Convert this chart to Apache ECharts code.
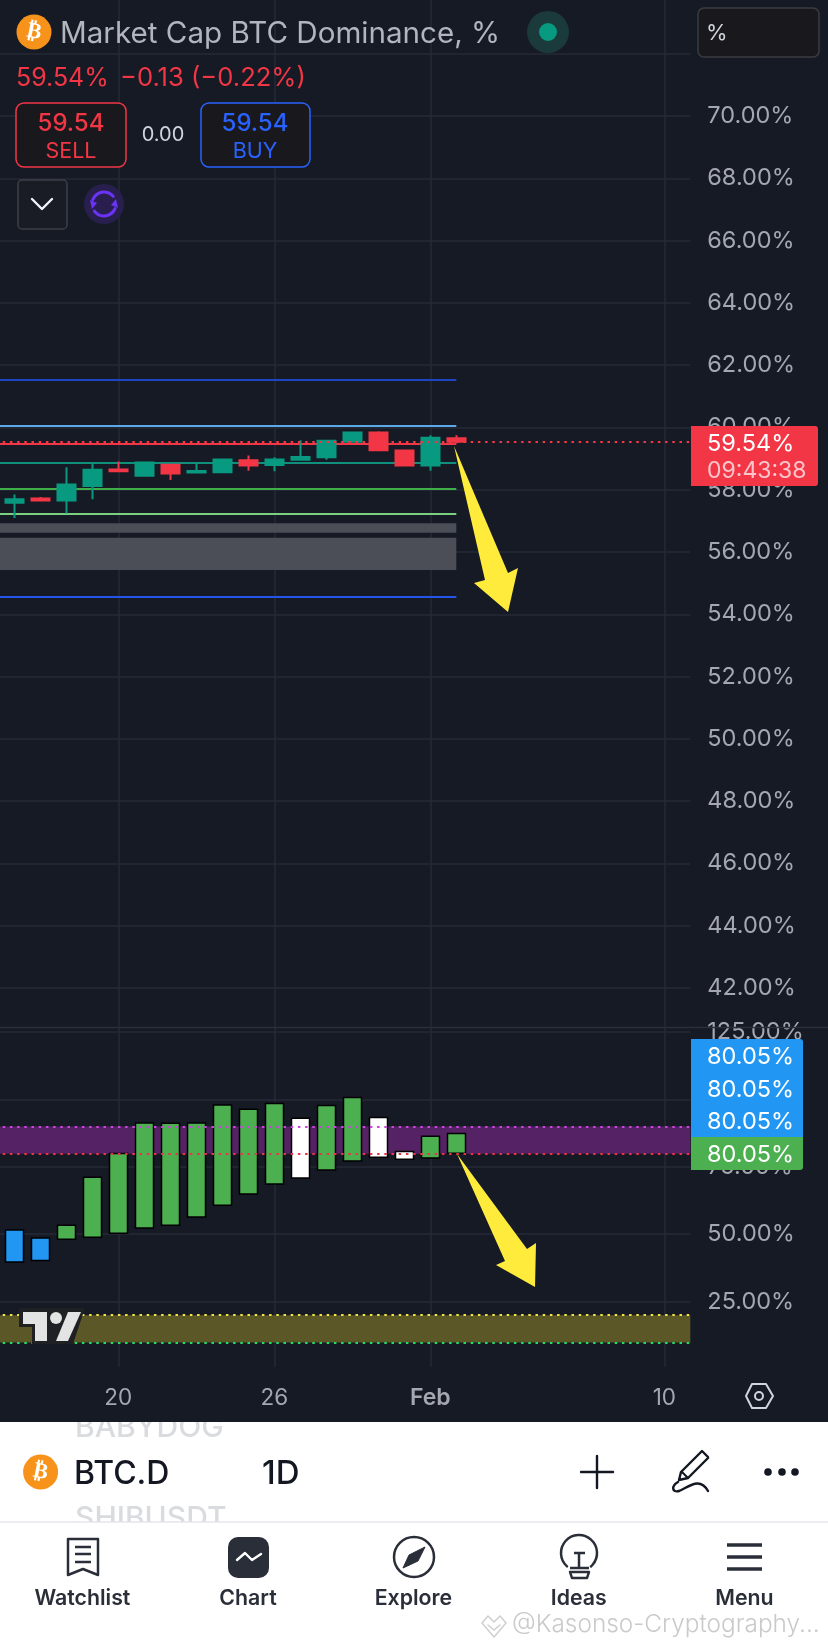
<!DOCTYPE html>
<html>
<head>
<meta charset="utf-8">
<style>html,body{margin:0;padding:0;background:#161A25}#c{width:828px;height:1646px}</style>
<script src="https://cdn.jsdelivr.net/npm/echarts@6/dist/echarts.min.js"></script>
</head>
<body>
<div id="c"></div>
<script>
// ---- data ----
const categories = ['15','16','17','18','19','20','21','22','23','24','25','26','27','28','29','30','31','Feb','2','3','4','5','6','7','8','9','10','11'];
const tickLabels = ['20','26','Feb','10'];
const candleDays = ['16','17','18','19','20','21','22','23','24','25','26','27','28','29','30','31','Feb','2'];
const candleOpen  = [57.58,57.72,57.65,58.12,58.65,58.45,58.80,58.55,58.56,58.95,58.79,58.96,59.04,59.54,59.84,59.26,58.78,59.65];
const candleClose = [57.69,57.65,58.17,58.64,58.59,58.87,58.52,58.60,58.97,58.78,58.97,59.05,59.57,59.84,59.27,58.78,59.67,59.54];
const candleLow   = [57.09,57.65,57.24,57.69,58.59,58.45,58.31,58.55,58.56,58.61,58.59,58.93,58.96,59.54,59.27,58.78,58.61,59.49];
const candleHigh  = [57.85,57.765,58.72,58.85,58.91,58.87,58.80,58.85,58.97,59.10,59.04,59.59,59.59,59.84,59.88,59.26,59.75,59.75];
const oscLow  = [39.72,40.22,48.13,48.87,50.36,52.33,53.32,56.41,60.74,64.94,68.65,70.88,73.85,77.19,78.55,77.80,78.30,80.03];
const oscHigh = [51.59,48.62,53.32,71.13,79.91,91.28,91.16,91.28,97.96,96.35,98.45,93.01,97.71,100.68,93.26,80.65,86.33,87.32];
const oscState = ['blue','blue','green','green','green','green','green','green','green','green','green','white','green','green','white','white','green','green'];
const lastPrice = 59.54;
const lineLevels = {deepBlueTop:61.52, lightBlue:60.05, red:59.47, teal:58.87, green:58.04, paleGreen:57.22, deepBlueBottom:54.55};
const greyBandA = [56.62,56.92];
const greyBandB = [55.42,56.46];
const purpleBand = [79.8,89.92];
const oliveBand = [9.8,19.94];
const oscTicks = [25,50,75,100,125];
const oscTagLabels = ['80.05%','80.05%','80.05%','80.05%'];

// ---- palette ----
const BG='#161A25', GRID='#262a36', AX='#a4a7b0', RED='#F23645', TEAL='#089981', BLUE='#2962FF';
const FONT='Inter, "Noto Sans", sans-serif';
const oscPalette={blue:'#2196F3',green:'#4CAF50',white:'#FFFFFF'};
const PANEL='#19191d', INK='#131722', NAV='#2a2e39';

// ---- chrome helpers ----
let zc=20; const g=[];
function add(o){o.z=zc++;o.silent=true;g.push(o);return o;}
function R(x,y,w,h,fill,stroke,r,lw){add({type:'rect',shape:{x,y,width:w,height:h,r:r||0},style:{fill:fill||'transparent',stroke:stroke||null,lineWidth:lw||1}});}
function T(x,y,text,size,fill,align,weight,extra){add({type:'text',style:Object.assign({x,y,text,fill,font:(weight||400)+' '+size+'px '+FONT,textAlign:align||'left',textVerticalAlign:'middle'},extra||{})});}
function C(cx,cy,r,fill,stroke,lw){add({type:'circle',shape:{cx,cy,r},style:{fill:fill||'transparent',stroke:stroke||null,lineWidth:lw||1}});}
function L(pts,stroke,lw,cap){add({type:'polyline',shape:{points:pts},style:{stroke,lineWidth:lw,fill:'transparent',lineCap:cap||'round',lineJoin:'round'}});}
function P(pts,fill,stroke,lw){add({type:'polygon',shape:{points:pts},style:{fill:fill||'transparent',stroke:stroke||null,lineWidth:lw||1,lineJoin:'round'}});}
function A(cx,cy,r,s,e,stroke,lw){add({type:'arc',shape:{cx,cy,r,startAngle:s,endAngle:e},style:{stroke,lineWidth:lw,fill:'transparent',lineCap:'round'}});}
function Q(x1,y1,cx1,cy1,cx2,cy2,x2,y2,stroke,lw){add({type:'bezierCurve',shape:{x1,y1,x2,y2,cpx1:cx1,cpy1:cy1,cpx2:cx2,cpy2:cy2},style:{stroke,lineWidth:lw,fill:'transparent',lineCap:'round'}});}
function btc(cx,cy,r,size){C(cx,cy,r,'#F7931A');add({type:'text',rotation:-0.2,x:cx,y:cy,style:{x:0,y:0,text:'₿',fill:'#fff',font:'700 '+size+'px "DejaVu Sans"',textAlign:'center',textVerticalAlign:'middle'}});}

// separator between panes
L([[0,1027.5],[828,1027.5]],'#2b2f3a',1.5,'butt');
// top-left header
R(126,100,75,70,BG);
btc(34,32,17.5,22);
T(60,34,'Market Cap BTC Dominance, %',29.6,'#B2B5BE');
C(548,32,21,'#1b3a3b'); C(548,32,9,TEAL);
T(16,78,'59.54%',25,RED); T(120,78,'−0.13 (−0.22%)',25.6,RED);
R(16,103,110,64,PANEL,RED,8,1.5);
T(71,124,'59.54',24,RED,'center',500); T(71,152,'SELL',21.5,RED,'center');
T(163,135,'0.00',20,'#D1D4DC','center');
R(201,103,109,64,PANEL,BLUE,8,1.5);
T(255,124,'59.54',24,BLUE,'center',500); T(255,152,'BUY',21.5,BLUE,'center');
R(18,180,49,49,'#1a1c25','#3d3f47',4,1.5);
L([[32,199],[42,209],[52,199]],'#F0F3FA',2.4);
C(104,204,20,'#281f4f');
A(104,204,12,3.5,5.6,'#6a33f5',3); A(104,204,12,0.4,2.5,'#6a33f5',3);
P([[116,199],[118,208],[111,205]],'#6a33f5'); P([[92,209],[90,200],[97,203]],'#6a33f5');
// scale-mode box
R(698,8,121,49,'#19191d','#3b3c40',6,1.5);
T(706,33,'%',22,'#D1D4DC');
// price tag top
add({type:'rect',shape:{x:691,y:426,width:127,height:60,r:[0,3,3,0]},style:{fill:RED}});
T(707,444,'59.54%',23.5,'#FFFFFF'); T(707,471,'09:43:38',23,'#FBC5CB');
// oscillator tags
add({type:'rect',shape:{x:691,y:1039,width:112,height:98,r:[0,3,0,0]},style:{fill:'#2196F3'}});
add({type:'rect',shape:{x:691,y:1137,width:112,height:33,r:[0,0,3,0]},style:{fill:'#4CAF50'}});
[1057,1090,1122,1155].forEach((y,i)=>T(707,y,oscTagLabels[i],23.5,'#FFFFFF'));
// arrows
P([[454,446],[508,573],[518,568],[508,612],[474,583],[485,580]],'#FFEB3B');
P([[457,1154],[527,1249],[536,1243],[535,1287],[496,1265],[505,1261]],'#FFEB3B');
// TradingView logo
P([[19,1308],[85,1308],[73,1344],[32,1344],[32,1327],[19,1327]],'#1f2024');
P([[23,1312],[47,1312],[47,1341],[35,1341],[35,1324],[23,1324]],'#E3E3E3');
C(56,1318,6,'#E3E3E3');
P([[68,1312],[81,1312],[68,1341],[56,1341]],'#E3E3E3');
// hex settings
P([[746,1396],[752,1384],[766,1384],[773,1396],[766,1408],[752,1408]],'transparent','#D1D4DC',2);
C(759,1396,4,'transparent','#D1D4DC',2);
// white panels
R(0,1422,828,224,'#FFFFFF');
T(75,1428,'BABYDOG',30,'#D9DBDF','left',500);
T(75,1519,'SHIBUSDT',30,'#D9DBDF','left',500);
R(70,1408,175,14,BG);
R(0,1522,828,124,'#FFFFFF');
L([[0,1522],[828,1522]],'#E4E6EA',1.5,'butt');
// toolbar row
R(60,1449,240,46,'#FFFFFF');
btc(40.6,1472,17.5,22);
T(74,1474,'BTC.D',32,INK,'left',500);
T(262,1474,'1D',33,INK,'left',500);
L([[597,1456],[597,1488]],INK,2.4); L([[581,1472],[613,1472]],INK,2.4);
P([[708,1457],[702,1451],[681,1472],[679,1480],[688,1478],[708,1458]],'transparent',INK,2.4);
L([[682,1472],[688,1478]],INK,2);
Q(678,1482,671,1486,672,1493,679,1491,INK,2.4);
Q(679,1491,690,1486,700,1477,708,1491,INK,2.4);
C(768,1472,3.8,INK); C(782,1472,3.8,INK); C(795,1472,3.8,INK);
// nav bar
P([[68,1539],[98,1539],[98,1575],[83,1569],[68,1575]],'transparent',NAV,2.5);
L([[75,1547],[91,1547]],NAV,2.5,'butt'); L([[75,1554],[91,1554]],NAV,2.5,'butt'); L([[75,1562],[91,1562]],NAV,2.5,'butt');
R(228,1537,41,41,NAV,null,10);
L([[237,1560],[245,1553],[252,1560],[261,1554]],'#FFFFFF',2.4);
C(414,1557,20,'transparent',NAV,2.5);
P([[425,1547],[409,1555],[403,1568],[418,1561]],NAV,NAV,1);
A(579,1553,18,2.3,7.13,NAV,2.5);
L([[574,1553],[585,1553]],NAV,2.5,'butt'); L([[579,1553],[579,1568]],NAV,2.5,'butt');
L([[570,1568],[589,1568]],NAV,2.5,'butt');
P([[570,1572],[589,1572],[587,1578],[572,1578]],'transparent',NAV,2.4);
L([[727,1545],[762,1545]],NAV,3.5,'butt'); L([[727,1557],[762,1557]],NAV,3.5,'butt'); L([[727,1569],[762,1569]],NAV,3.5,'butt');
T(82.4,1599,'Watchlist',21.3,NAV,'center',600);
T(248,1599,'Chart',21.3,NAV,'center',600);
T(413.4,1599,'Explore',21.3,NAV,'center',600);
T(578.7,1599,'Ideas',21.3,NAV,'center',600);
T(744.5,1599,'Menu',21.3,NAV,'center',600);
// watermark
L([[482,1623],[488,1616],[494,1622],[500,1616],[506,1623],[494,1637],[482,1623]],'#CFCFCF',1.5);
L([[488,1625],[494,1630],[500,1625]],'#CFCFCF',1.5);
T(512,1625,'@Kasonso-Cryptography...',24.4,'#CACACA','left',300);

// ---- series helpers ----
function hline(cat0,cat1,v,color,width,type){return [{coord:[cat0,v],lineStyle:{color,width,type:type||'solid'}},{coord:[cat1,v]}];}
function band(cat0,cat1,r,color){return [{coord:[cat0,r[1]],itemStyle:{color}},{coord:[cat1,r[0]]}];}
const mlBase={silent:true,symbol:'none',label:{show:false},animation:false,emphasis:{disabled:true}};
const maBase={silent:true,label:{show:false},animation:false,emphasis:{disabled:true}};

const dots=[2.5,4.7];
const option={
  animation:false,
  backgroundColor:BG,
  graphic:{elements:g},
  grid:[
    {left:-11.7,width:702,top:0,height:1367,outerBoundsMode:'none',containLabel:false},
    {left:-11.7,width:702,top:53.72,height:934.28,outerBoundsMode:'none',containLabel:false},
    {left:-11.7,width:702,top:1032,height:337,outerBoundsMode:'none',containLabel:false}
  ],
  xAxis:[
    {gridIndex:0,type:'category',boundaryGap:false,data:categories,axisLine:{show:false},axisTick:{show:false},
      splitLine:{show:true,interval:(i,v)=>tickLabels.includes(v),lineStyle:{color:GRID,width:1.5}},
      axisLabel:{interval:(i,v)=>tickLabels.includes(v),margin:20,fontFamily:FONT,fontSize:22.5,color:AX,
        formatter:v=>v==='Feb'?'{b|Feb}':v,rich:{b:{fontFamily:FONT,fontSize:23,fontWeight:600,color:AX}}}},
    {gridIndex:1,type:'category',boundaryGap:false,data:categories,show:false},
    {gridIndex:2,type:'category',boundaryGap:false,data:categories,show:false}
  ],
  yAxis:[
    {gridIndex:0,type:'value',min:0,max:1,show:false,splitLine:{show:false}},
    {gridIndex:1,type:'value',position:'right',min:42,max:72,interval:2,axisLine:{show:false},axisTick:{show:false},
      splitLine:{lineStyle:{color:GRID,width:1.5}},
      axisLabel:{margin:17,padding:[4,0,0,0],fontFamily:FONT,fontSize:23.5,color:AX,showMaxLabel:false,formatter:v=>v.toFixed(2)+'%'}},
    {gridIndex:2,type:'value',position:'right',min:0,max:125,interval:25,axisLine:{show:false},
      axisTick:{show:false,customValues:oscTicks},
      splitLine:{lineStyle:{color:GRID,width:1.5}},
      axisLabel:{customValues:oscTicks,margin:17,padding:[4,0,0,0],fontFamily:FONT,fontSize:23.5,color:AX,formatter:v=>v.toFixed(2)+'%'}}
  ],
  series:[
    {type:'candlestick',name:'BTC.D',xAxisIndex:1,yAxisIndex:1,barWidth:18,z:5,
      itemStyle:{color:TEAL,color0:RED,borderColor:TEAL,borderColor0:RED,borderWidth:2},
      data:candleDays.map((d,i)=>[d,candleOpen[i],candleClose[i],candleLow[i],candleHigh[i]]),
      encode:{x:0,y:[1,2,3,4]},
      markArea:Object.assign({},maBase,{data:[band('15','2',greyBandA,'#4b4d57'),band('15','2',greyBandB,'#4b4d57')]})},
    {type:'line',name:'levels',xAxisIndex:1,yAxisIndex:1,data:[],z:4,
      markLine:Object.assign({},mlBase,{z:4,data:[
        hline('15','2',lineLevels.deepBlueTop,'#1f45c4',2),
        hline('15','2',lineLevels.lightBlue,'#5aa9e6',2),
        hline('15','2',lineLevels.red,RED,2),
        hline('15','2',lineLevels.teal,'#0f8f7c',2),
        hline('15','2',lineLevels.green,'#3fae49',2),
        hline('15','2',lineLevels.paleGreen,'#7bcf80',2),
        hline('15','2',lineLevels.deepBlueBottom,'#2255e8',2)
      ]})},
    {type:'line',name:'price',xAxisIndex:1,yAxisIndex:1,data:[],z:8,
      markLine:Object.assign({},mlBase,{z:8,data:[hline('15','11',lastPrice,RED,2,dots)]})},
    {type:'candlestick',name:'osc',xAxisIndex:2,yAxisIndex:2,barWidth:19,z:5,
      itemStyle:{borderWidth:1.5,borderColor:'#000',borderColor0:'#000'},
      data:candleDays.map((d,i)=>({value:[d,oscLow[i],oscHigh[i],oscLow[i],oscHigh[i]],
        itemStyle:{color:oscPalette[oscState[i]],color0:oscPalette[oscState[i]],borderColor:'#000',borderColor0:'#000'}})),
      encode:{x:0,y:[1,2,3,4]},
      markArea:Object.assign({},maBase,{data:[band('15','11',purpleBand,'#552365'),band('15','11',oliveBand,'#5b5727')]})},
    {type:'line',name:'oscLevels',xAxisIndex:2,yAxisIndex:2,data:[],z:8,
      markLine:Object.assign({},mlBase,{z:8,data:[
        hline('15','11',purpleBand[1],'#cc44dd',2,dots),
        hline('15','11',purpleBand[0],'#ee3344',2,dots),
        hline('15','11',oliveBand[1],'#f4e542',2,dots),
        hline('15','11',oliveBand[0],'#22dd66',2,dots)
      ]})}
  ]
};
const chart=echarts.init(document.getElementById('c'),null,{width:828,height:1646,renderer:'canvas'});
chart.setOption(option);
</script>
</body>
</html>
